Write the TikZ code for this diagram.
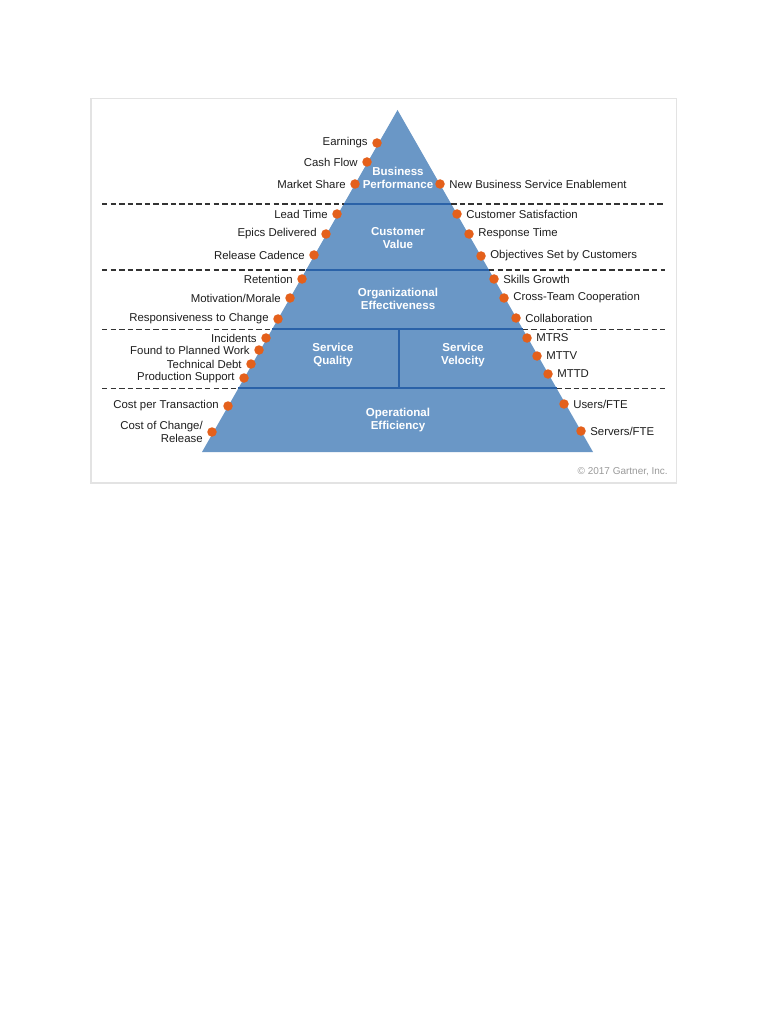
\documentclass[tikz,border=0pt]{standalone}
\usepackage{fontspec}
\setmainfont{Liberation Sans}
\usetikzlibrary{positioning,calc}

\definecolor{pyrBlue}{HTML}{6A97C6}
\definecolor{tierBlue}{HTML}{2A62A8}
\definecolor{dotOrange}{HTML}{E4601B}
\definecolor{frameGray}{HTML}{E3E3E3}
\definecolor{noteGray}{HTML}{9A9A9A}
\definecolor{txtDark}{HTML}{1E1E1E}

\begin{document}
\begin{tikzpicture}[
    x=0.025cm, y=-0.025cm,
    metricDot/.style={
        circle, fill=dotOrange, minimum size=0.2375cm, inner sep=0pt
    },
    leftTxt/.style={
        inner sep=0pt, align=right, text=txtDark, font=\fontsize{8.1}{9.4}\selectfont
    },
    rightTxt/.style={
        inner sep=0pt, align=left, text=txtDark, font=\fontsize{8.1}{9.4}\selectfont
    },
    layerTxt/.style={
        inner sep=0pt, align=center, text=white, font=\bfseries\fontsize{8.2}{8.8}\selectfont
    },
    tierLine/.style={
        draw=tierBlue, line width=1.4pt
    },
    dashRule/.style={
        draw=black!80, line width=0.8pt, dash pattern=on 3.9pt off 2.2pt
    },
    frameLine/.style={
        draw=frameGray, line width=1pt
    }
]

% Page and frame
\path[fill=white] (0,0) rectangle (768,1024);
\draw[frameLine] (91,98.7) rectangle (676.5,483);

% Pyramid
\coordinate (apex) at (397.5,110);
\coordinate (baseL) at (202,452);
\coordinate (baseR) at (593,452);
\fill[pyrBlue] (apex) -- (baseR) -- (baseL) -- cycle;

% Tier boundaries on the pyramid edges
\coordinate (tL1) at ($(apex)!0.2749!(baseL)$);
\coordinate (tR1) at ($(apex)!0.2749!(baseR)$);
\coordinate (tL2) at ($(apex)!0.4678!(baseL)$);
\coordinate (tR2) at ($(apex)!0.4678!(baseR)$);
\coordinate (tL3) at ($(apex)!0.6412!(baseL)$);
\coordinate (tR3) at ($(apex)!0.6412!(baseR)$);
\coordinate (tL4) at ($(apex)!0.8137!(baseL)$);
\coordinate (tR4) at ($(apex)!0.8137!(baseR)$);
\coordinate (ruleL) at (102,0);
\coordinate (ruleR) at (665,0);
\coordinate (split) at (399.3,0);

\foreach \t in {1,...,4} {
    \draw[dashRule] (ruleL |- tL\t) -- (tL\t);
    \draw[dashRule] (tR\t) -- (ruleR |- tR\t);
    \draw[tierLine] (tL\t) -- (tR\t);
}
\draw[tierLine] (split |- tL3) -- (split |- tL4);

% Layer titles
\node[layerTxt] (busPerf) at (398,178) {Business\\Performance};
\node[layerTxt] (custVal) at (398,238) {Customer\\Value};
\node[layerTxt] (orgEff) at (398,299) {Organizational\\Effectiveness};
\node[layerTxt] (servQual) at (333,355) {Service\\Quality};
\node[layerTxt] (servVel) at (463,355) {Service\\Velocity};
\node[layerTxt] (opEff) at (398,420) {Operational\\Efficiency};

% Left metrics
\node[metricDot] (earn) at (377,143) {};
\node[leftTxt, left=0.1cm of earn] (earnTxt) {Earnings};
\node[metricDot] (cash) at (367,162) {};
\node[leftTxt, left=0.1cm of cash] (cashTxt) {Cash Flow};
\node[metricDot] (share) at (355,184) {};
\node[leftTxt, left=0.1cm of share] (shareTxt) {Market Share};
\node[metricDot] (lead) at (337,214) {};
\node[leftTxt, left=0.1cm of lead] (leadTxt) {Lead Time};
\node[metricDot] (epics) at (326,234) {};
\node[leftTxt, left=0.1cm of epics] (epicsTxt) {Epics Delivered};
\node[metricDot] (cadence) at (314,255) {};
\node[leftTxt, left=0.1cm of cadence] (cadenceTxt) {Release Cadence};
\node[metricDot] (retain) at (302,279) {};
\node[leftTxt, left=0.1cm of retain] (retainTxt) {Retention};
\node[metricDot] (morale) at (290,298) {};
\node[leftTxt, left=0.1cm of morale] (moraleTxt) {Motivation/Morale};
\node[metricDot] (respChg) at (278,319) {};
\node[leftTxt, left=0.1cm of respChg] (respChgTxt) {Responsiveness to Change};
\node[metricDot] (incid) at (266,338) {};
\node[leftTxt, left=0.1cm of incid] (incidTxt) {Incidents};
\node[metricDot] (found) at (259,350) {};
\node[leftTxt, left=0.1cm of found] (foundTxt) {Found to Planned Work};
\node[metricDot] (debt) at (251,364) {};
\node[leftTxt, left=0.1cm of debt] (debtTxt) {Technical Debt};
\node[metricDot] (prod) at (244,378) {};
\node[leftTxt, left=0.1cm of prod] (prodTxt) {Production Support};
\node[metricDot] (costTx) at (228,406) {};
\node[leftTxt, left=0.1cm of costTx] (costTxTxt) {Cost per Transaction};
\node[metricDot] (costChg) at (212,432) {};
\node[leftTxt, left=0.1cm of costChg] (costChgTxt) {Cost of Change/\\Release};

% Right metrics
\node[metricDot] (newBiz) at (440,184) {};
\node[rightTxt, right=0.1cm of newBiz] (newBizTxt) {New Business Service Enablement};
\node[metricDot] (custSat) at (457,214) {};
\node[rightTxt, right=0.1cm of custSat] (custSatTxt) {Customer Satisfaction};
\node[metricDot] (respTime) at (469,234) {};
\node[rightTxt, right=0.1cm of respTime] (respTimeTxt) {Response Time};
\node[metricDot] (objSet) at (481,256) {};
\node[rightTxt, right=0.1cm of objSet] (objSetTxt) {Objectives Set by Customers};
\node[metricDot] (skills) at (494,279) {};
\node[rightTxt, right=0.1cm of skills] (skillsTxt) {Skills Growth};
\node[metricDot] (coop) at (504,298) {};
\node[rightTxt, right=0.1cm of coop] (coopTxt) {Cross-Team Cooperation};
\node[metricDot] (collab) at (516,318) {};
\node[rightTxt, right=0.1cm of collab] (collabTxt) {Collaboration};
\node[metricDot] (mtrs) at (527,338) {};
\node[rightTxt, right=0.1cm of mtrs] (mtrsTxt) {MTRS};
\node[metricDot] (mttv) at (537,356) {};
\node[rightTxt, right=0.1cm of mttv] (mttvTxt) {MTTV};
\node[metricDot] (mttd) at (548,374) {};
\node[rightTxt, right=0.1cm of mttd] (mttdTxt) {MTTD};
\node[metricDot] (users) at (564,404) {};
\node[rightTxt, right=0.1cm of users] (usersTxt) {Users/FTE};
\node[metricDot] (servers) at (581,431) {};
\node[rightTxt, right=0.1cm of servers] (serversTxt) {Servers/FTE};

% Source note
\node[anchor=east, inner sep=0pt, text=noteGray, font=\fontsize{7.1}{8}\selectfont] (gartner) at (668,472) {\textcopyright{} 2017 Gartner, Inc.};

\end{tikzpicture}
\end{document}
